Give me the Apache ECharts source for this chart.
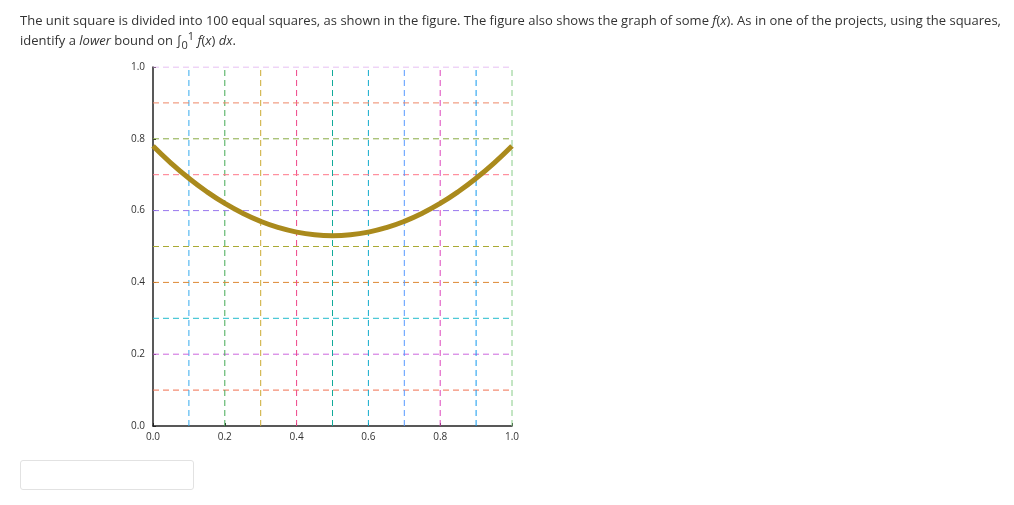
<!DOCTYPE html>
<html>
<head>
<meta charset="utf-8">
<script src="https://cdn.jsdelivr.net/npm/echarts@6/dist/echarts.min.js"></script>
<style>
  body { margin: 0; background: #fff; font-family: "Open Sans", sans-serif; color: #333; }
  .q { position: absolute; left: 20px; top: 10px; width: 990px; font-size: 13px; line-height: 20px; }
  .q sub, .q sup { font-size: 11px; line-height: 0; }
  #chart { position: absolute; left: 0; top: 0; width: 1014px; height: 505px; }
  .answer { position: absolute; left: 20px; top: 460px; width: 172px; height: 28px; border: 1px solid #e2e2e2; border-radius: 3px; }
</style>
</head>
<body>
<div id="chart"></div>
<div class="q">The unit square is divided into 100 equal squares, as shown in the figure. The figure also shows the graph of some <i>f</i>(<i>x</i>). As in one of the projects, using the squares, identify a <i>lower</i> bound on ∫<sub>0</sub><sup>1</sup> <i>f</i>(<i>x</i>) <i>dx</i>.</div>
<div class="answer"></div>
<script>
// grid positions (tenths of the unit square)
var gridPos = [0.1, 0.2, 0.3, 0.4, 0.5, 0.6, 0.7, 0.8, 0.9, 1.0];
var vColors = ['#33aaee', '#44aa55', '#ccaa33', '#ee4488', '#11aa99', '#11aacc', '#5599ff', '#dd44bb', '#1199ee', '#88cc88'];
var hColors = ['#f07050', '#cc66dd', '#22bbcc', '#dd8833', '#aaaa33', '#9977ee', '#ff7788', '#88aa44', '#ee8866', '#ddaaee'];

// f(x)
var fx = [0, 0.05, 0.1, 0.15, 0.2, 0.25, 0.3, 0.35, 0.4, 0.45, 0.5, 0.55, 0.6, 0.65, 0.7, 0.75, 0.8, 0.85, 0.9, 0.95, 1.0];
var fy = [0.78, 0.7325, 0.69, 0.6525, 0.62, 0.5925, 0.57, 0.5525, 0.54, 0.5325, 0.53, 0.5325, 0.54, 0.5525, 0.57, 0.5925, 0.62, 0.6525, 0.69, 0.7325, 0.78];

var series = [];
gridPos.forEach(function (p, i) {
  series.push({
    type: 'line', silent: true, symbol: 'none',
    lineStyle: { color: hColors[i], width: 1, type: [6, 4] },
    data: [[0, p], [1, p]]
  });
  series.push({
    type: 'line', silent: true, symbol: 'none',
    lineStyle: { color: vColors[i], width: 1, type: [6, 4] },
    data: [[p, 0], [p, 1]]
  });
});
series.push({
  type: 'line', smooth: 0.5, symbol: 'none',
  lineStyle: { color: '#aa8a1c', width: 5 },
  data: fx.map(function (x, i) { return [x, fy[i]]; })
});

var chart = echarts.init(document.getElementById('chart'));
chart.setOption({
  animation: false,
  grid: { left: 153, right: 502, top: 67, bottom: 79 },
  xAxis: {
    type: 'value', min: 0, max: 1, interval: 0.2,
    axisLine: { lineStyle: { color: '#222', width: 1.5 } },
    axisTick: { show: true, inside: true, length: 3, lineStyle: { color: '#222' } },
    axisLabel: { color: '#333', fontSize: 10, fontFamily: 'Open Sans', margin: 6,
      formatter: function (v) { return v.toFixed(1); } },
    splitLine: { show: false }
  },
  yAxis: {
    type: 'value', min: 0, max: 1, interval: 0.2,
    axisLine: { show: true, lineStyle: { color: '#222', width: 1.5 } },
    axisTick: { show: true, inside: true, length: 3, lineStyle: { color: '#222' } },
    axisLabel: { color: '#333', fontSize: 10, fontFamily: 'Open Sans', margin: 8,
      formatter: function (v) { return v.toFixed(1); } },
    splitLine: { show: false }
  },
  series: series
});
</script>
</body>
</html>
